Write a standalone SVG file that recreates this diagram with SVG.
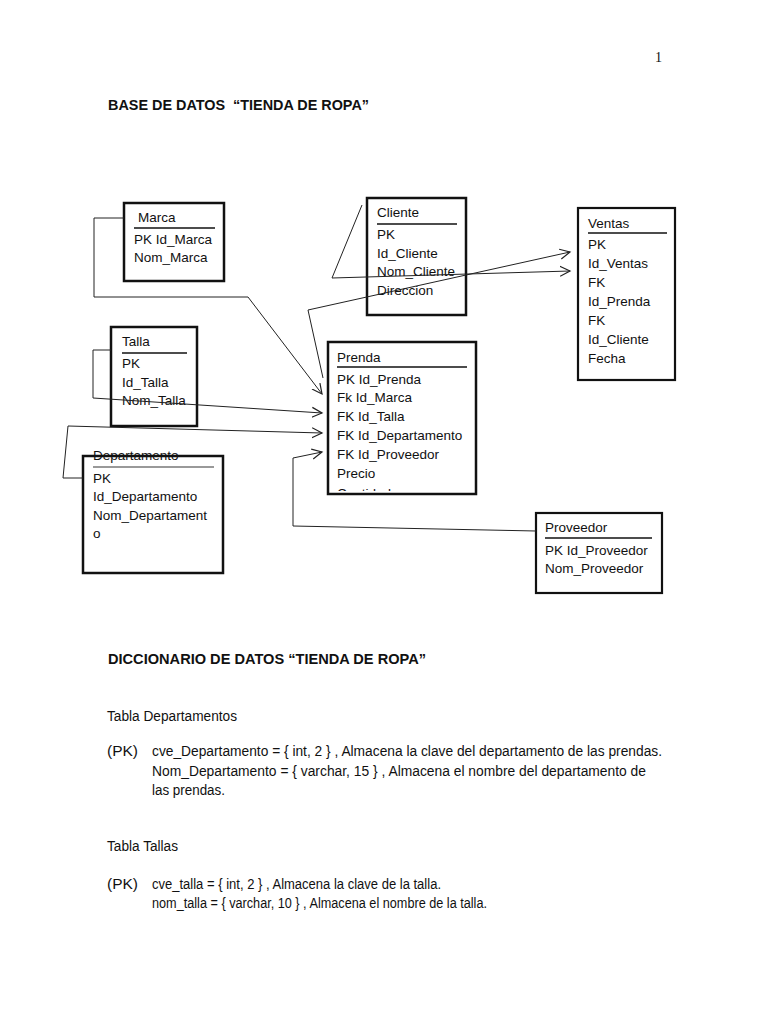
<svg xmlns="http://www.w3.org/2000/svg" width="768" height="1024" viewBox="0 0 768 1024">
<style>
text{font-family:"Liberation Sans",Arial,sans-serif;font-size:13.5px;fill:#111}
.t{font-size:14px}
.b{font-weight:bold;font-size:15px}
.box{fill:#fff;stroke:#111;stroke-width:2.5}
.sep{stroke:#111;stroke-width:1.6}
.con{fill:none;stroke:#222;stroke-width:1}
</style>
<defs>
<marker id="arr" markerUnits="userSpaceOnUse" markerWidth="12" markerHeight="12" refX="10" refY="5" orient="auto" viewBox="0 0 12 10">
<path d="M0,0 L10,5 L0,10" fill="none" stroke="#222" stroke-width="1.2"/>
</marker>
<clipPath id="prclip"><rect x="328" y="342" width="148" height="149"/></clipPath>
</defs>
<rect width="768" height="1024" fill="#fff"/>
<text x="655" y="62" style="font-family:'Liberation Serif','Times New Roman',serif;font-size:14px">1</text>
<text class="b" x="108" y="110" textLength="261" lengthAdjust="spacingAndGlyphs" style="white-space:pre">BASE DE DATOS  “TIENDA DE ROPA”</text>

<g id="marca">
<rect class="box" x="124" y="203" width="100" height="78"/>
<text x="138" y="222">Marca</text>
<line class="sep" x1="134" y1="228" x2="215" y2="228"/>
<text x="134" y="244">PK Id_Marca</text>
<text x="134" y="262">Nom_Marca</text>
</g>
<g id="talla">
<rect class="box" x="111" y="327" width="86" height="99"/>
<text x="122" y="346">Talla</text>
<line class="sep" x1="122" y1="353" x2="187" y2="353"/>
<text x="122" y="368">PK</text>
<text x="122" y="387">Id_Talla</text>
<text x="122" y="405">Nom_Talla</text>
</g>
<g id="departamento">
<rect class="box" x="83" y="456" width="140" height="117"/>
<text x="93" y="460">Departamento</text>
<line x1="93" y1="467" x2="214" y2="467" stroke="#777" stroke-width="1.6"/>
<text x="93" y="483">PK</text>
<text x="93" y="501">Id_Departamento</text>
<text x="93" y="520">Nom_Departament</text>
<text x="93" y="538">o</text>
</g>
<g id="cliente">
<rect class="box" x="367" y="198" width="99" height="117"/>
<text x="377" y="217">Cliente</text>
<line class="sep" x1="377" y1="224" x2="457" y2="224"/>
<text x="377" y="239">PK</text>
<text x="377" y="258">Id_Cliente</text>
<text x="377" y="276">Nom_Cliente</text>
<text x="377" y="295">Direccion</text>
</g>
<g id="ventas">
<rect class="box" x="578" y="208" width="97" height="172" style="stroke-width:2.2"/>
<text x="588" y="228">Ventas</text>
<line class="sep" x1="588" y1="233" x2="667" y2="233"/>
<text x="588" y="249">PK</text>
<text x="588" y="268">Id_Ventas</text>
<text x="588" y="287">FK</text>
<text x="588" y="306">Id_Prenda</text>
<text x="588" y="325">FK</text>
<text x="588" y="344">Id_Cliente</text>
<text x="588" y="363">Fecha</text>
</g>
<g id="prenda">
<rect class="box" x="328" y="342" width="148" height="152"/>
<text x="337" y="362">Prenda</text>
<line class="sep" x1="337" y1="367" x2="467" y2="367"/>
<text x="337" y="384">PK Id_Prenda</text>
<text x="337" y="402">Fk Id_Marca</text>
<text x="337" y="421">FK Id_Talla</text>
<text x="337" y="440">FK Id_Departamento</text>
<text x="337" y="459">FK Id_Proveedor</text>
<text x="337" y="478">Precio</text>
<text x="337" y="498" clip-path="url(#prclip)">Cantidad</text>
</g>
<g id="proveedor">
<rect class="box" x="536" y="513" width="126" height="80" style="stroke-width:2.2"/>
<text x="545" y="532">Proveedor</text>
<line class="sep" x1="545" y1="538" x2="652" y2="538"/>
<text x="545" y="555">PK Id_Proveedor</text>
<text x="545" y="573">Nom_Proveedor</text>
</g>

<g id="connectors">
<polyline class="con" points="362,205 332,278 570,271" marker-end="url(#arr)"/>
<polyline class="con" points="323,378 308,310 570,252" marker-end="url(#arr)"/>
<polyline class="con" points="124,218 94,218 94,297 248,297 322,394" marker-end="url(#arr)"/>
<polyline class="con" points="111,350 93,350 93,398 322,413" marker-end="url(#arr)"/>
<polyline class="con" points="83,478 63,478 68,426 322,433" marker-end="url(#arr)"/>
<polyline class="con" points="536,531 293,526 293,458 322,452" marker-end="url(#arr)"/>
</g>

<text class="b" x="108" y="664" textLength="318" lengthAdjust="spacingAndGlyphs">DICCIONARIO DE DATOS “TIENDA DE ROPA”</text>
<text class="t" x="107" y="721" textLength="130" lengthAdjust="spacingAndGlyphs">Tabla Departamentos</text>
<text class="t" x="107" y="756" textLength="31" lengthAdjust="spacingAndGlyphs">(PK)</text>
<text class="t" x="152" y="756" textLength="510" lengthAdjust="spacingAndGlyphs">cve_Departamento = { int, 2 } , Almacena la clave del departamento de las prendas.</text>
<text class="t" x="152" y="776" textLength="494" lengthAdjust="spacingAndGlyphs">Nom_Departamento = { varchar, 15 } , Almacena el nombre del departamento de</text>
<text class="t" x="152" y="795" textLength="73" lengthAdjust="spacingAndGlyphs">las prendas.</text>
<text class="t" x="107" y="851" textLength="71" lengthAdjust="spacingAndGlyphs">Tabla Tallas</text>
<text class="t" x="107" y="889" textLength="31" lengthAdjust="spacingAndGlyphs">(PK)</text>
<text class="t" x="152" y="889" textLength="289" lengthAdjust="spacingAndGlyphs">cve_talla = { int, 2 } , Almacena la clave de la talla.</text>
<text class="t" x="152" y="908" textLength="335" lengthAdjust="spacingAndGlyphs">nom_talla = { varchar, 10 } , Almacena el nombre de la talla.</text>
</svg>
